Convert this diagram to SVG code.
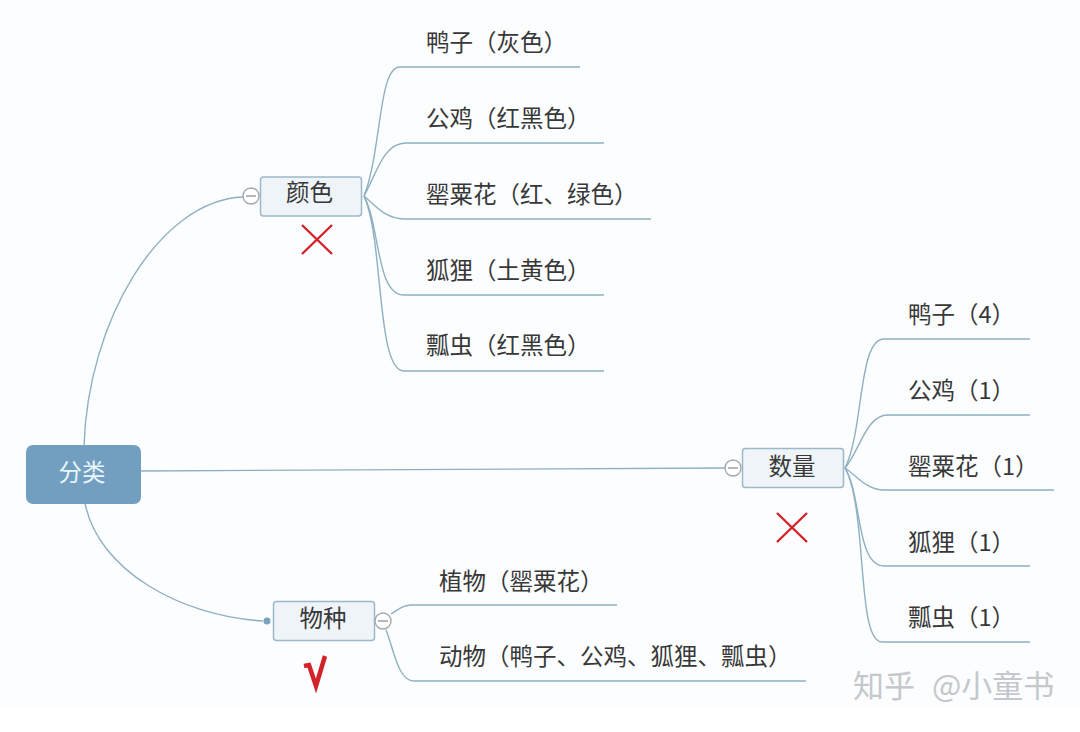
<svg xmlns="http://www.w3.org/2000/svg" width="1080" height="732" viewBox="0 0 1080 732">
<style>
text{font-family:"Noto Sans CJK SC","Liberation Sans",sans-serif;font-size:23.5px;fill:#383838;}
.lbl{font-size:23.500px;}
.c{text-anchor:middle;}
.line{fill:none;stroke:#8fb0c2;stroke-width:1.4;}
.box{fill:#eef4f8;stroke:#9db8c9;stroke-width:1.5;}
.tog{fill:#fff;stroke:#a5a9ab;stroke-width:1.4;}
.minus{stroke:#9a9a9a;stroke-width:1.4;}
.x{stroke:#d4222a;stroke-width:2.4;fill:none;}
</style>
<rect width="1080" height="708" fill="#fcfdfe"/>
<rect y="708" width="1080" height="24" fill="#fff"/>
<g id="connectors">
<path class="line" d="M84 446C88 320 160 200 243 197"/>
<path class="line" d="M141 471L726 468"/>
<path class="line" d="M85 503C98 570 180 616 263 621"/>
<path class="line" d="M364 196C382 150 378 67 400 67H580"/>
<path class="line" d="M364 196C378 170 384 143 406 143H604"/>
<path class="line" d="M364 196C374 204 384 219 406 219H651"/>
<path class="line" d="M364 196C380 225 376 295 404 295H604"/>
<path class="line" d="M364 196C384 240 376 371 404 371H604"/>
<path class="line" d="M845 468C864 430 858 339 884 339H1030"/>
<path class="line" d="M845 468C860 450 866 415 888 415H1030"/>
<path class="line" d="M845 468C855 474 866 490 884 490H1054"/>
<path class="line" d="M845 468C862 495 856 566 884 566H1030"/>
<path class="line" d="M845 468C868 510 856 642 882 642H1030"/>
<path class="line" d="M391 614C398 610 402 605 412 605H617"/>
<path class="line" d="M386 630C394 650 398 681 414 681H806"/>
</g>
<g id="root"><rect x="26" y="445" width="115" height="59" rx="7" fill="#729fc0"/><text class="c" x="82" y="481" style="fill:#e9f6fc">分类</text></g>
<g id="color"><rect class="box" x="260.500" y="177" width="101" height="39" rx="3"/><text class="c" x="309.500" y="201">颜色</text><circle class="tog" cx="251" cy="196" r="8"/><path class="minus" d="M246 196H256"/></g>
<g id="count"><rect class="box" x="742.500" y="448.500" width="101" height="39" rx="3"/><text class="c" x="792" y="474.500">数量</text><circle class="tog" cx="733" cy="468" r="8"/><path class="minus" d="M728 468H738"/></g>
<g id="species"><rect class="box" x="273.500" y="601.500" width="101" height="39" rx="3"/><text class="c" x="323" y="627">物种</text><circle class="tog" cx="383" cy="621" r="8"/><path class="minus" d="M378 621H388"/><circle cx="267" cy="621" r="3.500" fill="#7ba3c0"/></g>
<g id="marks">
<path class="x" d="M302 225L332 254M332 225L302 254"/>
<path class="x" d="M777 513L807 542M807 513L777 542"/>
<path d="M304 666L309 665L316 686L325 656" fill="none" stroke="#d4222a" stroke-width="4.500"/>
</g>
<g id="leaves">
<text class="lbl" x="426" y="51">鸭子（灰色）</text>
<text class="lbl" x="426" y="127">公鸡（红黑色）</text>
<text class="lbl" x="426" y="203">罂粟花（红、绿色）</text>
<text class="lbl" x="426" y="279">狐狸（土黄色）</text>
<text class="lbl" x="426" y="354">瓢虫（红黑色）</text>
<text class="lbl" x="908" y="323">鸭子（4）</text>
<text class="lbl" x="908" y="399">公鸡（1）</text>
<text class="lbl" x="908" y="475">罂粟花（1）</text>
<text class="lbl" x="908" y="551">狐狸（1）</text>
<text class="lbl" x="908" y="626">瓢虫（1）</text>
<text class="lbl" x="439" y="590">植物（罂粟花）</text>
<text class="lbl" x="439" y="665">动物（鸭子、公鸡、狐狸、瓢虫）</text>
</g>
<text x="853" y="697" style="font-size:31px;word-spacing:10px;fill:#c4c8cc">知乎 @小童书</text>
</svg>
